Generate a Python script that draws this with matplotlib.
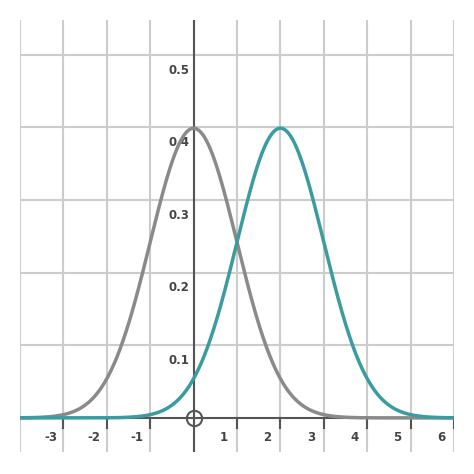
import numpy as np
import matplotlib
matplotlib.use("Agg")
import matplotlib.pyplot as plt

# two normal curves
means = [0.0, 2.0]
sds = [1.0, 1.0]
colors = ["#8a8a8a", "#3a9c9f"]
x_ticks = [-3, -2, -1, 1, 2, 3, 4, 5, 6]
y_ticks = [0.1, 0.2, 0.3, 0.4, 0.5]

fig = plt.figure(figsize=(4.74, 4.74), dpi=100)
ax = fig.add_axes([20 / 474, (474 - 452) / 474, 434 / 474, 432 / 474])
ax.set_xlim(-4, 6)
ax.set_ylim(-0.047, 0.548)

for gx in range(-4, 7):
    ax.axvline(gx, color="#cccccc", lw=1.5, zorder=0)
for gy in [0.1, 0.2, 0.3, 0.4, 0.5]:
    ax.axhline(gy, color="#cccccc", lw=1.5, zorder=0)

ax.axhline(0, color="#555555", lw=1.5, zorder=1)
ax.axvline(0, color="#555555", lw=1.5, zorder=1)
for t in x_ticks:
    ax.plot([t, t], [0, -0.014], color="#555555", lw=1.5)
    ax.text(t - 0.3, -0.018, str(t), ha="center", va="top", fontsize=8.5,
            fontweight="bold", color="#444444")
for t in y_ticks:
    ax.text(-0.1, t - 0.012, f"{t:.1f}", ha="right", va="top", fontsize=8.5,
            fontweight="bold", color="#444444")

xs = np.linspace(-4, 6, 500)
for m, s, c in zip(means, sds, colors):
    ys = np.exp(-0.5 * ((xs - m) / s) ** 2) / (s * np.sqrt(2 * np.pi))
    ax.plot(xs, ys, color=c, lw=2.5, zorder=3)

ax.plot(0, 0, "o", ms=11, mfc="none", mec="#555555", mew=1.5, zorder=4)
ax.axis("off")
fig.savefig("out.png", dpi=100)
